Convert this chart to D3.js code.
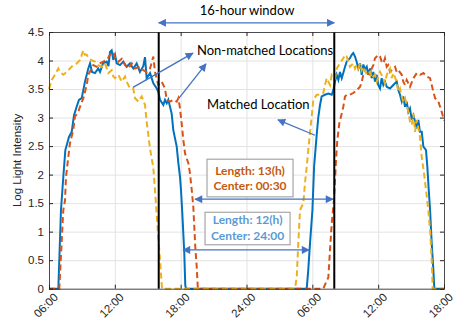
<!DOCTYPE html>
<head>
  <meta charset="utf-8">
  <script src="https://d3js.org/d3.v7.min.js"></script>
  <style>
    body { margin:0; background:#fff; }
    .tick text { font: 11.5px "Liberation Sans", Arial, sans-serif; fill:#262626; }
    .note { font-family: Lato, "Open Sans", sans-serif; font-size: 13px; }
    .boxnote { font-family: Lato, "Open Sans", sans-serif; font-size: 12px; }
  </style>
</head>
<body>
<div id="chart"></div>
<script>
  var width = 474;
  var height = 321;
  var margin = {top: 32, right: 30, bottom: 32.3, left: 49};

  // hours since 06:00 of day 1, tick labels every 6 hours
  var tickHours = [0, 6, 12, 18, 24, 30, 36];
  var tickLabels = ["06:00", "12:00", "18:00", "24:00", "06:00", "12:00", "18:00"];
  var yTicks = [0, 0.5, 1, 1.5, 2, 2.5, 3, 3.5, 4, 4.5];

  // matched location (blue, solid)
  var blueH = [0,0.85,1.09,1.30,1.49,1.82,2.07,2.28,2.52,2.73,2.98,3.28,3.58,3.74,3.92,4.19,4.49,4.65,4.92,5.26,5.42,5.56,5.71,5.86,6.02,6.17,6.47,6.77,7.08,7.38,7.68,7.99,8.29,8.59,8.75,8.90,9.21,9.51,9.82,9.96,10.12,10.42,10.57,10.73,10.87,11.18,11.33,11.64,11.79,11.94,12.03,12.15,12.24,12.33,12.42,12.49,
    23.49,23.63,23.79,24.01,24.16,24.40,24.54,24.70,24.85,25.15,25.46,25.77,25.91,26.07,26.22,26.37,26.52,26.68,26.82,26.98,27.13,27.43,27.59,27.73,27.89,28.04,28.19,28.35,28.50,28.65,28.80,28.96,29.10,29.26,29.41,29.56,29.71,29.87,30.01,30.17,30.32,30.47,30.62,30.78,31.08,31.38,31.69,31.84,31.99,32.15,32.29,32.45,32.60,32.75,32.90,33.06,33.21,33.36,33.52,33.66,33.81,33.97,34.12,34.36,34.48,34.61,34.73,34.88,35.03,35.12,36];
  var blueV = [0,0,1.37,1.95,2.43,2.66,2.75,3.04,3.19,3.31,3.34,3.63,3.86,3.95,3.80,3.78,3.86,3.80,3.95,3.98,3.90,4.15,4.18,4.01,4.10,3.95,3.92,3.98,3.89,3.95,3.86,3.95,3.80,3.90,4.06,3.69,3.78,3.60,3.51,3.45,3.31,3.22,3.31,3.25,3.31,3.07,2.78,2.49,2.20,1.96,1.73,1.32,0.97,0.62,0.06,0,
    0,0.33,0.80,1.38,2.14,2.70,3.00,3.22,3.37,3.40,3.42,3.40,3.48,3.63,3.75,3.66,3.80,3.69,3.78,3.89,3.98,4.04,4.10,4.13,4.07,3.98,3.86,3.95,3.75,3.93,3.84,3.89,3.75,3.86,3.69,3.80,3.63,3.75,3.57,3.51,3.69,3.57,3.63,3.54,3.51,3.57,3.63,3.48,3.40,3.28,3.37,3.19,3.28,3.10,3.16,2.96,3.04,2.93,2.81,2.96,2.75,2.75,2.49,2.43,2.14,1.73,1.38,0.80,0.33,0,0];

  // non-matched location 1 (orange, dashed)
  var orangeH = [0,0.94,1.30,1.46,1.55,1.76,1.91,2.21,2.37,2.67,2.83,3.13,3.44,3.58,3.89,4.04,4.35,4.65,4.95,5.26,5.56,5.86,6.02,6.32,6.63,6.93,7.23,7.54,7.84,8.29,8.59,8.90,9.21,9.51,9.66,9.96,10.27,10.57,10.73,11.03,11.33,11.64,11.79,11.94,12.09,12.24,12.40,12.70,12.85,13.01,13.15,13.24,13.33,13.46,13.55,13.58,
    25.00,25.46,25.61,25.77,25.97,26.07,26.16,26.28,26.46,26.68,26.82,26.98,27.13,27.43,27.73,28.04,28.35,28.50,28.65,28.96,29.26,29.41,29.56,29.71,30.01,30.17,30.32,30.47,30.62,30.78,30.92,31.08,31.38,31.54,31.69,31.84,32.15,32.29,32.45,32.60,32.90,33.21,33.52,33.81,34.12,34.43,34.73,34.88,35.03,35.19,35.49,35.64,35.79,36];
  var orangeV = [0,0,1.37,1.55,1.96,2.31,2.55,2.78,3.02,3.10,3.19,3.34,3.57,3.75,3.86,3.92,3.89,3.95,3.98,4.01,4.10,4.15,4.03,3.98,4.03,3.92,3.86,3.95,3.86,3.89,3.83,3.80,3.86,4.07,3.80,3.57,3.63,3.51,3.31,3.28,3.31,3.28,3.34,3.16,2.90,2.61,2.37,2.20,2.02,1.73,1.44,1.09,0.74,0.39,0.06,0,
    0,0.20,0.68,1.15,1.55,1.91,2.26,2.61,2.90,3.07,3.19,3.37,3.40,3.40,3.43,3.48,3.54,3.63,3.75,3.78,3.75,3.86,3.92,4.04,4.10,4.07,3.98,3.95,4.04,3.89,3.92,3.80,3.86,3.89,3.80,3.83,3.75,3.63,3.57,3.66,3.54,3.69,3.78,3.75,3.78,3.72,3.69,3.57,3.45,3.34,3.28,3.19,3.10,2.95];

  // non-matched location 2 (yellow, dashed)
  var yellowH = [0,0.25,0.55,0.85,1.00,1.30,1.61,1.91,2.21,2.52,2.83,3.13,3.28,3.44,3.58,3.92,4.19,4.49,4.80,5.10,5.26,5.41,5.71,5.86,6.02,6.32,6.63,6.93,7.08,7.38,7.68,7.84,8.14,8.45,8.75,8.90,9.21,9.51,9.66,9.82,9.96,10.12,10.30,
    22.42,22.58,22.72,22.88,23.18,23.33,23.49,23.72,23.94,24.09,24.40,24.70,25.00,25.15,25.31,25.61,25.77,26.07,26.22,26.52,26.82,26.98,27.13,27.28,27.43,27.73,27.89,28.04,28.19,28.35,28.50,28.65,28.96,29.26,29.41,29.71,29.87,30.17,30.47,30.62,30.78,31.08,31.23,31.38,31.69,31.84,31.99,32.15,32.29,32.45,32.60,32.75,32.90,33.06,33.21,33.36,33.52,33.81,33.97,34.18,34.36,34.57,34.73,34.88,34.97,36];
  var yellowV = [3.50,3.66,3.75,3.86,3.80,3.75,3.80,3.86,3.92,3.95,4.01,4.18,4.10,4.10,4.05,4.00,3.98,3.92,3.89,3.95,3.86,3.78,3.83,3.72,3.69,3.75,3.63,3.72,3.63,3.51,3.51,3.34,3.28,3.37,3.22,2.93,2.45,2.12,1.73,1.29,0.89,0.50,0,
    0,0.21,0.80,1.38,1.50,1.85,2.14,2.61,3.02,3.31,3.40,3.40,3.43,3.57,3.69,3.57,3.75,3.69,3.86,3.95,4.04,4.10,4.07,3.98,3.89,3.95,3.86,3.92,3.86,3.95,3.83,3.89,3.75,3.80,3.69,3.75,3.63,3.80,3.69,3.60,3.75,3.86,3.69,3.78,3.63,3.45,3.51,3.37,3.28,3.34,3.22,3.10,2.93,2.87,3.07,2.75,2.96,2.66,2.31,2.02,1.73,1.38,1.03,0.50,0,0];

  // window edges (16:00 and 08:00 next day)
  var windowHours = [10, 26];

  var innerW = width - margin.left - margin.right;
  var innerH = height - margin.top - margin.bottom;

  var xScale = d3.scaleLinear().domain([0, 36]).range([margin.left, margin.left + innerW]);
  var yScale = d3.scaleLinear().domain([0, 4.5]).range([margin.top + innerH, margin.top]);

  var svg = d3.select("#chart").append("svg")
    .attr("width", width)
    .attr("height", height);

  var defs = svg.append("defs");
  defs.append("marker")
    .attr("id", "head")
    .attr("viewBox", "0 0 10 10")
    .attr("refX", 9).attr("refY", 5)
    .attr("markerWidth", 9).attr("markerHeight", 8)
    .attr("markerUnits", "userSpaceOnUse")
    .attr("orient", "auto-start-reverse")
    .append("path").attr("d", "M0,0L10,5L0,10z").attr("fill", "#4472C4");

  //grid
  svg.append("g")
    .attr("transform", "translate(0," + (margin.top + innerH) + ")")
    .call(d3.axisBottom(xScale).tickValues(tickHours).tickSize(-innerH).tickFormat(""))
    .call(function(g){ g.select(".domain").remove(); g.selectAll("line").attr("stroke", "#e3e3e3"); });
  svg.append("g")
    .attr("transform", "translate(" + margin.left + ",0)")
    .call(d3.axisLeft(yScale).tickValues(yTicks).tickSize(-innerW).tickFormat(""))
    .call(function(g){ g.select(".domain").remove(); g.selectAll("line").attr("stroke", "#e3e3e3"); });

  //lines
  var line = d3.line()
    .x(function(d){ return xScale(d[0]); })
    .y(function(d){ return yScale(d[1]); });

  var series = [
    {h: blueH, v: blueV, color: "#0072BD", dash: null},
    {h: orangeH, v: orangeV, color: "#D95319", dash: "6,3.5"},
    {h: yellowH, v: yellowV, color: "#EDB120", dash: "6,3.5"}
  ];
  series.forEach(function(s){
    var pts = s.h.map(function(h, i){ return [h, s.v[i]]; });
    svg.append("path")
      .attr("d", line(pts))
      .attr("fill", "none")
      .attr("stroke", s.color)
      .attr("stroke-width", 2)
      .attr("stroke-dasharray", s.dash);
  });

  //window lines
  svg.selectAll(".win").data(windowHours).enter().append("line")
    .attr("x1", function(d){ return xScale(d); })
    .attr("x2", function(d){ return xScale(d); })
    .attr("y1", yScale(4.5)).attr("y2", yScale(0))
    .attr("stroke", "#000").attr("stroke-width", 2);

  //axes
  var xAxis = svg.append("g")
    .attr("transform", "translate(0," + (margin.top + innerH) + ")")
    .call(d3.axisBottom(xScale).tickValues(tickHours).tickSize(-4).tickPadding(6)
      .tickFormat(function(d, i){ return tickLabels[i]; }));
  xAxis.selectAll("text")
    .attr("text-anchor", "end")
    .attr("dy", null)
    .attr("transform", "translate(5,5) rotate(-45)");
  svg.append("g")
    .attr("transform", "translate(" + margin.left + ",0)")
    .call(d3.axisLeft(yScale).tickValues(yTicks).tickSize(-4).tickPadding(5)
      .tickFormat(d3.format("")));
  svg.append("g")
    .attr("transform", "translate(0," + margin.top + ")")
    .call(d3.axisTop(xScale).tickValues(tickHours).tickSize(-4).tickFormat(""));
  svg.append("g")
    .attr("transform", "translate(" + (margin.left + innerW) + ",0)")
    .call(d3.axisRight(yScale).tickValues(yTicks).tickSize(-4).tickFormat(""));
  svg.selectAll(".domain").attr("stroke", "#262626").attr("stroke-width", 0.8);
  svg.selectAll(".tick line").filter(function(){ return d3.select(this).attr("stroke") !== "#e3e3e3"; })
    .attr("stroke", "#262626");

  svg.append("text")
    .attr("transform", "translate(21," + (margin.top + innerH / 2) + ") rotate(-90)")
    .attr("text-anchor", "middle")
    .style("font", "11.5px 'Liberation Sans', Arial, sans-serif")
    .attr("fill", "#262626")
    .text("Log Light Intensity");

  //annotations
  function arrow(h1, v1, h2, v2, both){
    svg.append("line")
      .attr("x1", xScale(h1)).attr("y1", yScale(v1))
      .attr("x2", xScale(h2)).attr("y2", yScale(v2))
      .attr("stroke", "#4472C4").attr("stroke-width", 1.3)
      .attr("marker-end", "url(#head)")
      .attr("marker-start", both ? "url(#head)" : null);
  }
  function note(h, v, str, color, cls, anchor){
    svg.append("text")
      .attr("class", cls || "note")
      .attr("x", xScale(h)).attr("y", yScale(v))
      .attr("fill", color)
      .attr("font-weight", cls ? "bold" : null)
      .attr("text-anchor", anchor || "start")
      .text(str);
  }
  function box(h1, v1, h2, v2){
    svg.append("rect")
      .attr("x", xScale(h1)).attr("y", yScale(v1))
      .attr("width", xScale(h2) - xScale(h1))
      .attr("height", yScale(v2) - yScale(v1))
      .attr("fill", "#fff").attr("stroke", "#a6a6a6").attr("stroke-width", 1.2);
  }

  note(18.05, 4.80, "16-hour window", "#000", null, "middle");
  arrow(10, 4.66, 26, 4.66, true);

  note(13.49, 4.10, "Non-matched Locations", "#000");
  arrow(7.66, 3.53, 13.12, 4.13);
  arrow(11.85, 3.34, 14.31, 3.94);

  note(14.40, 3.15, "Matched Location", "#000");
  arrow(24.24, 2.69, 20.87, 2.96);

  box(14.40, 2.27, 22.24, 1.61);
  note(18.32, 2.00, "Length: 13(h)", "#C55A11", "boxnote", "middle");
  note(18.32, 1.73, "Center: 00:30", "#C55A11", "boxnote", "middle");
  arrow(13.31, 1.57, 25.88, 1.57, true);

  box(14.22, 1.34, 21.97, 0.77);
  note(18.1, 1.13, "Length: 12(h)", "#5B9BD5", "boxnote", "middle");
  note(18.1, 0.86, "Center: 24:00", "#5B9BD5", "boxnote", "middle");
  arrow(12.21, 0.68, 23.70, 0.68, true);
</script>
</body>
